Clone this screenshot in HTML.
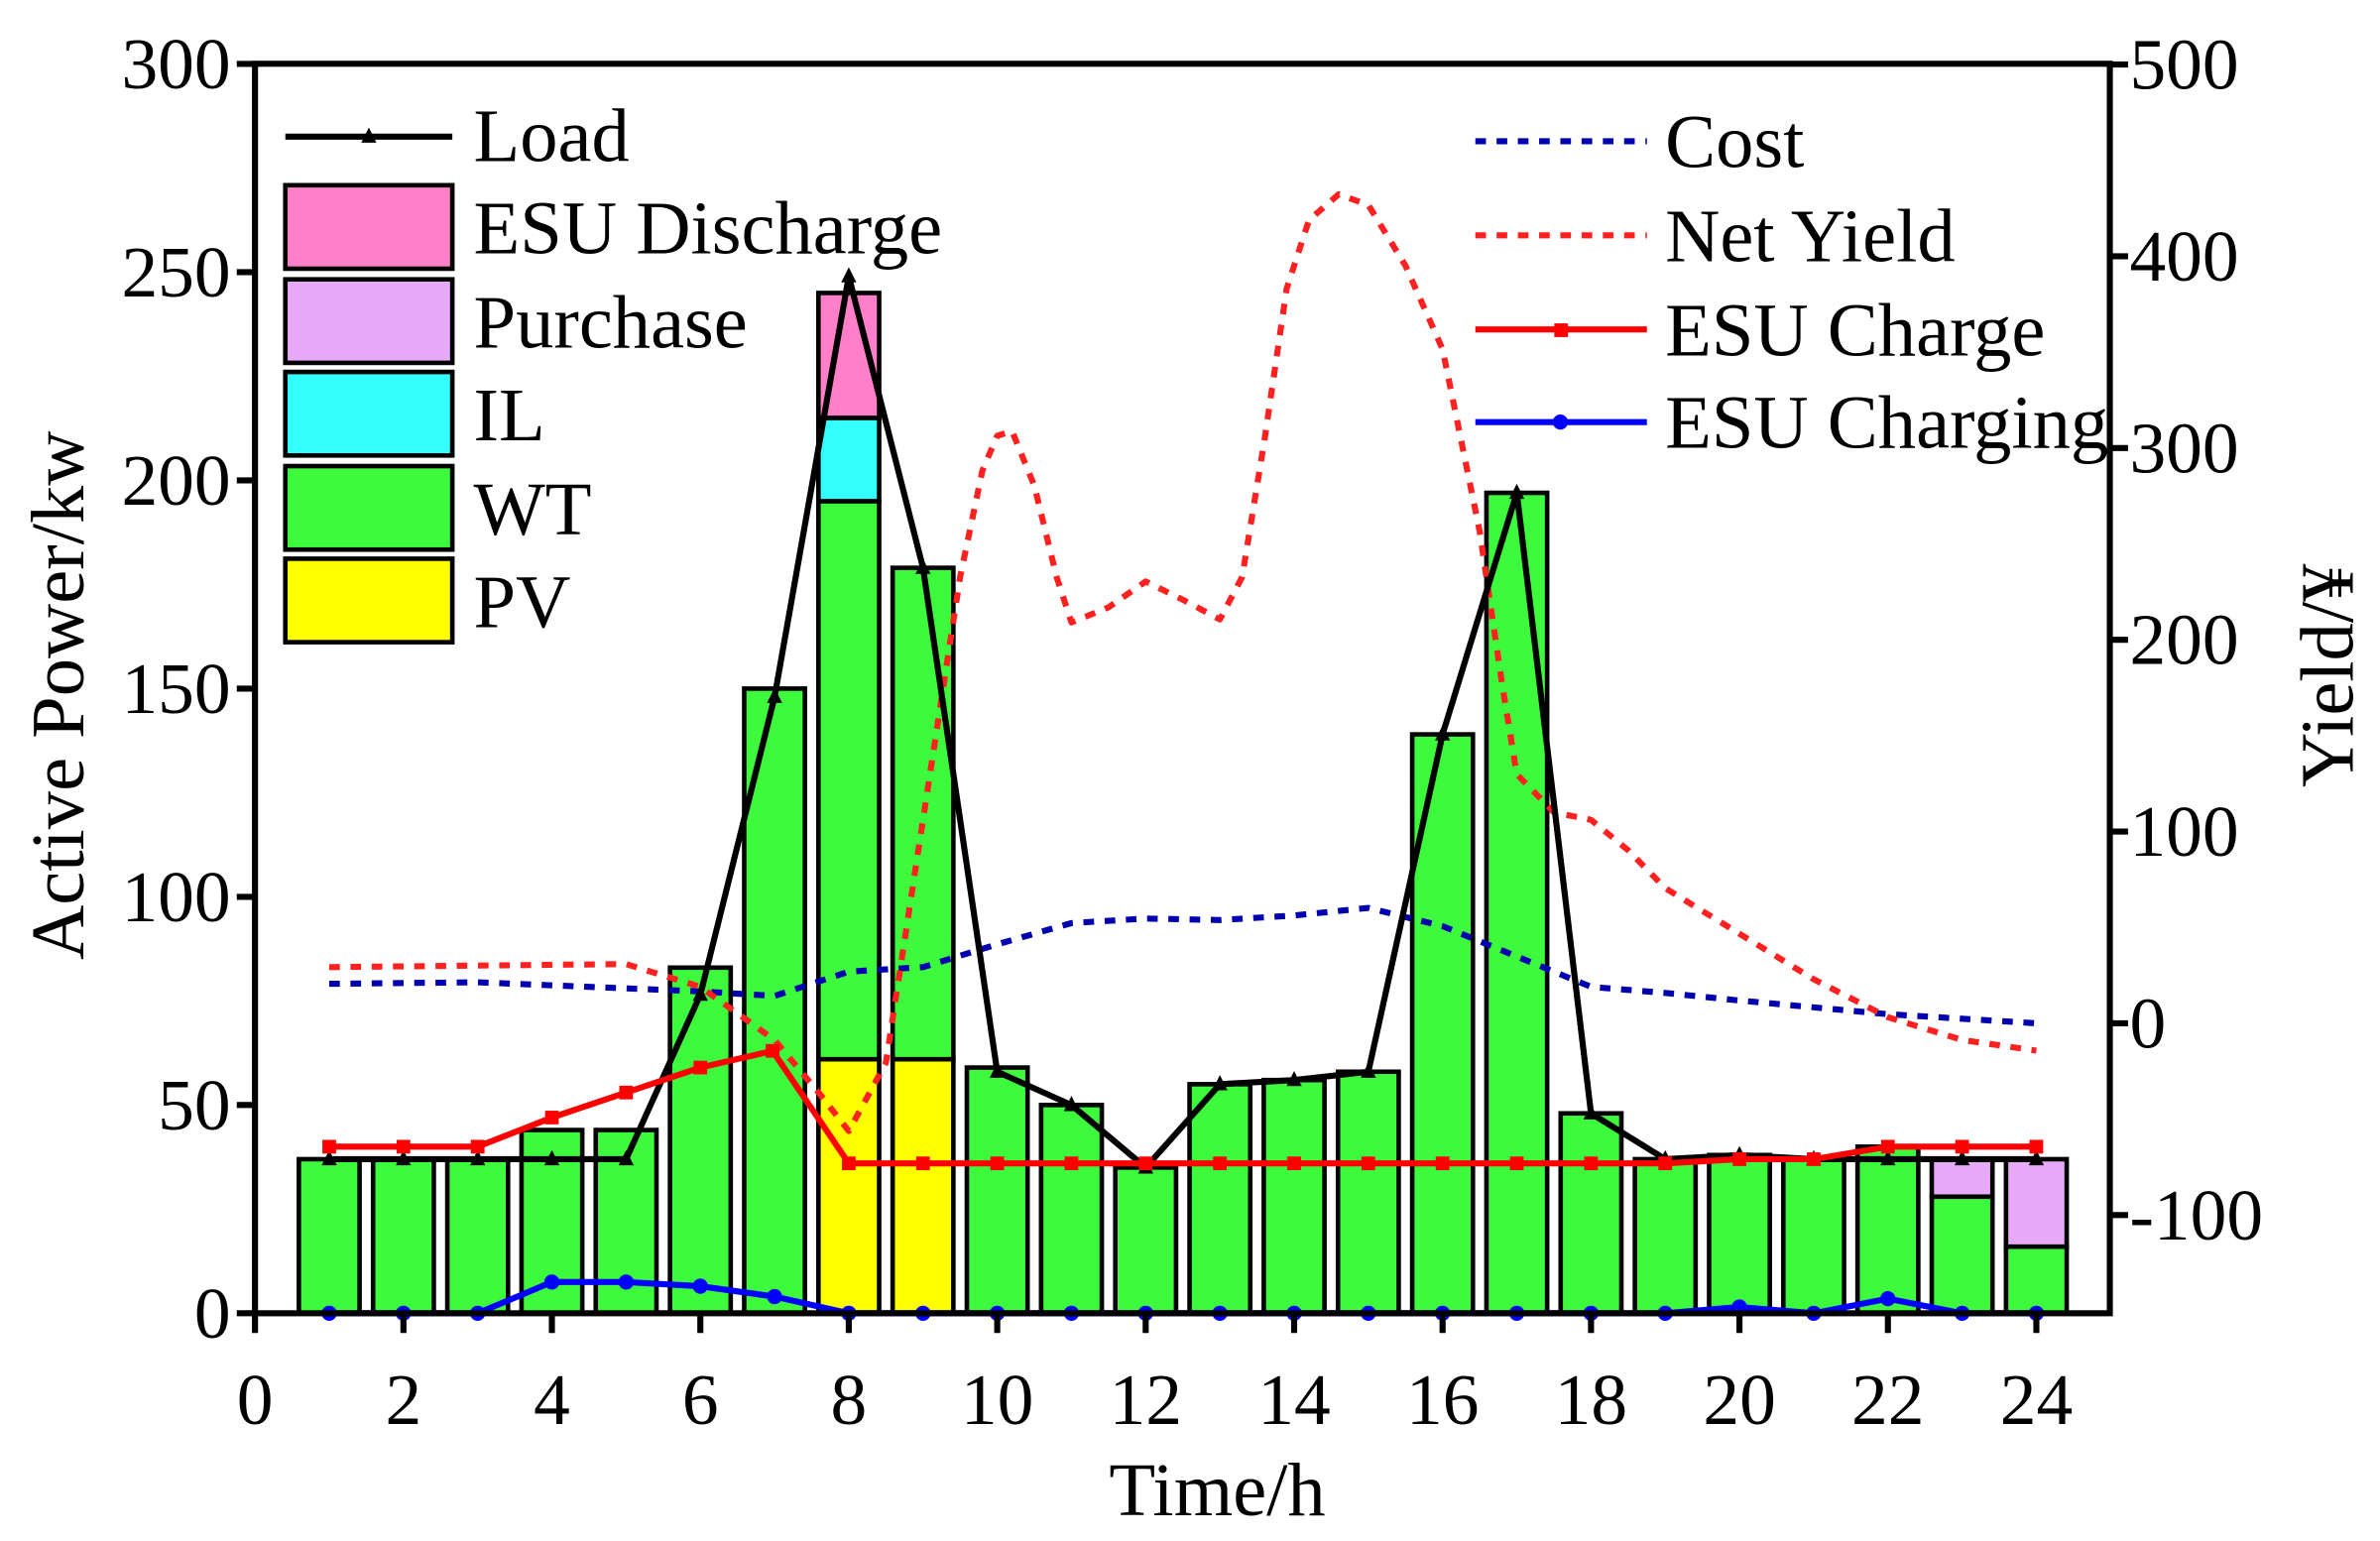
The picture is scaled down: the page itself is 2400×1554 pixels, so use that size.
<!DOCTYPE html>
<html><head><meta charset="utf-8"><style>html,body{margin:0;padding:0;background:#fff}svg{display:block}</style></head>
<body>
<svg id="s" width="2400" height="1554" viewBox="0 0 1568 1015" preserveAspectRatio="none" xmlns="http://www.w3.org/2000/svg" font-family="Liberation Serif, serif">
<g id="bars"></g>
<g id="lines"></g>
<g id="axes" stroke="#000" stroke-width="4" fill="none"></g>
<g id="txt" font-size="48" fill="#000"></g>
</svg>
<script>
const NS="http://www.w3.org/2000/svg";
function el(p,t,a,txt){const e=document.createElementNS(NS,t);for(const k in a)e.setAttribute(k,a[k]);if(txt!==undefined)e.textContent=txt;document.getElementById(p).appendChild(e);return e;}
const X=h=>168+48.9*h, Y=v=>865-v*2.743, YR=v=>674-v*1.263;
const G="#3dfa3d",PV="#ffff00",IL="#33ffff",PU="#e8aaf8",DS="#ff80c8";
const bars={1:[[37,G]],2:[[37,G]],3:[[37,G]],4:[[44,G]],5:[[44,G]],6:[[83,G]],7:[[150,G]],
8:[[61,PV],[195,G],[215,IL],[245,DS]],9:[[61,PV],[179,G]],10:[[59,G]],11:[[50,G]],12:[[35,G]],13:[[55,G]],14:[[56,G]],15:[[58,G]],16:[[139,G]],17:[[197,G]],18:[[48,G]],19:[[37,G]],20:[[38,G]],21:[[37,G]],22:[[40,G]],23:[[28,G],[37,PU]],24:[[16,G],[37,PU]]};
for(const h in bars){let prev=0;for(const [v,c] of bars[h]){el("bars","rect",{x:X(+h)-20,y:Y(v),width:40,height:Y(prev)-Y(v),fill:c,stroke:"#000","stroke-width":3});prev=v;}}
function pl(pts,attr){el("lines","polyline",Object.assign({points:pts.map(p=>p.join(",")).join(" "),fill:"none","stroke-linejoin":"round"},attr));}
const cost=[[1,648],[3,647],[5,651],[6,653],[7,656],[8,640],[9,637],[10,622],[11,608],[12,605],[13,606],[14,603],[15,598],[16,610],[17,630],[18,650],[19,654],[20,659],[22,668],[24,674]];
pl(cost.map(p=>[X(p[0]),p[1]]),{stroke:"#0000b0","stroke-width":4,"stroke-dasharray":"7,7"});
const ny=[[1,637],[5,635],[6,650],[7,685],[7.6,720],[8,745],[8.5,700],[9,540],[9.5,380],[9.8,310],[10,287],[10.2,284],[10.5,320],[10.8,380],[11,410],[11.5,400],[12,383],[12.5,395],[13,408],[13.3,380],[13.6,290],[13.9,190],[14.2,145],[14.6,128],[15,135],[15.5,175],[16,230],[16.5,350],[16.8,450],[17,510],[17.5,535],[18,540],[18.5,560],[19,585],[20,615],[21,645],[22,670],[23,685],[24,692]];
pl(ny.map(p=>[X(p[0]),p[1]]),{stroke:"#ff2020","stroke-width":4,"stroke-dasharray":"7,7"});
const load=[37,37,37,37,37,76.5,148,249,179,58,50,35,55,56,58,139,197,48,37,38,37,37,37,37];
pl(load.map((v,i)=>[X(i+1),Y(v)]),{stroke:"#000","stroke-width":4});
load.forEach((v,i)=>el("lines","polygon",{points:`${X(i+1)-5},${Y(v)+4} ${X(i+1)+5},${Y(v)+4} ${X(i+1)},${Y(v)-6}`,fill:"#000"}));
const ch=[40,40,40,47,53,59,63,36,36,36,36,36,36,36,36,36,36,36,36,37,37,40,40,40];
const chx=ch.map((v,i)=>[i==6?509:X(i+1),Y(v)]);
pl(chx,{stroke:"#ff0000","stroke-width":4});
chx.forEach(p=>el("lines","rect",{x:p[0]-4.5,y:p[1]-4.5,width:9,height:9,fill:"#ff0000"}));
const bl=[0,0,0,7.5,7.5,6.5,4,0,0,0,0,0,0,0,0,0,0,0,0,1.5,0,3.5,0,0];
pl(bl.map((v,i)=>[X(i+1),Y(v)]),{stroke:"#0000ff","stroke-width":4});
bl.forEach((v,i)=>el("lines","circle",{cx:X(i+1),cy:Y(v),r:5,fill:"#0000ff"}));
el("axes","rect",{x:168,y:42,width:1222,height:823});
for(let v=0;v<=300;v+=50){el("axes","line",{x1:156,x2:168,y1:Y(v),y2:Y(v)});el("txt","text",{x:152,y:Y(v)+16,"text-anchor":"end"},v);}
for(let v=-100;v<=500;v+=100){el("axes","line",{x1:1390,x2:1402,y1:YR(v),y2:YR(v)});el("txt","text",{x:1403,y:YR(v)+16},v==-100?"-100":v);}
for(let h=0;h<=24;h+=2){el("axes","line",{x1:X(h),x2:X(h),y1:865,y2:878});el("txt","text",{x:X(h),y:938,"text-anchor":"middle"},h);}
el("txt","text",{x:802,y:998,"text-anchor":"middle","font-size":50},"Time/h");
el("txt","text",{x:0,y:0,"text-anchor":"middle","font-size":50,transform:"translate(55,458) rotate(-90)"},"Active Power/kw");
el("txt","text",{x:0,y:0,"text-anchor":"middle","font-size":50,transform:"translate(1550,445) rotate(-90)"},"Yield/¥");
el("axes","line",{x1:188,x2:298,y1:90,y2:90,"stroke-width":4});
el("lines","polygon",{points:"238,94 248,94 243,84",fill:"#000"});
el("txt","text",{x:312,y:106,"font-size":50},"Load");
[["ESU Discharge",DS,122],["Purchase",PU,184],["IL",IL,245],["WT",G,307],["PV",PV,368]].forEach(([t,c,y])=>{
el("bars","rect",{x:188,y:y,width:110,height:55,fill:c,stroke:"#000","stroke-width":3});
el("txt","text",{x:312,y:y+45,"font-size":50},t);});
el("lines","line",{x1:972,x2:1085,y1:93,y2:93,stroke:"#0000b0","stroke-width":4,"stroke-dasharray":"7,7"});
el("lines","line",{x1:972,x2:1085,y1:155,y2:155,stroke:"#ff2020","stroke-width":4,"stroke-dasharray":"7,7"});
el("lines","line",{x1:972,x2:1085,y1:217,y2:217,stroke:"#ff0000","stroke-width":4});
el("lines","rect",{x:1024,y:213,width:9,height:9,fill:"#ff0000"});
el("lines","line",{x1:972,x2:1085,y1:278,y2:278,stroke:"#0000ff","stroke-width":4});
el("lines","circle",{cx:1028,cy:278,r:5,fill:"#0000ff"});
[["Cost",110],["Net Yield",172],["ESU Charge",234],["ESU Charging",295]].forEach(([t,y])=>el("txt","text",{x:1097,y:y,"font-size":50},t));
</script>
</body></html>
